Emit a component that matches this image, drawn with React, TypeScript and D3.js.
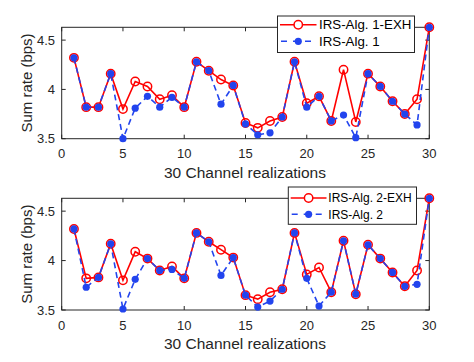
import * as d3 from 'd3'
import * as React from 'react'

//------------------------------data------------------------------
const realizations = d3.range(1, 31)
const xTicks = [0, 5, 10, 15, 20, 25, 30]
const yTicks = [3.5, 4, 4.5]

const exh1 = [4.32, 3.82, 3.82, 4.16, 3.8, 4.08, 4.03, 3.9, 3.94, 3.82, 4.28, 4.19, 4.1, 4.04, 3.66, 3.61, 3.68, 3.72, 4.28, 3.86, 3.93, 3.68, 4.2, 3.67, 4.16, 4.03, 3.88, 3.75, 3.9, 4.63]
const alg1 = [4.32, 3.82, 3.82, 4.16, 3.5, 3.81, 3.93, 3.82, 3.92, 3.82, 4.28, 4.19, 3.85, 4.04, 3.65, 3.54, 3.56, 3.72, 4.28, 3.82, 3.93, 3.68, 3.74, 3.51, 4.16, 4.03, 3.88, 3.75, 3.64, 4.63]
const exh2 = [4.32, 3.82, 3.83, 4.17, 3.8, 4.09, 4.02, 3.9, 3.94, 3.82, 4.28, 4.19, 4.11, 4.03, 3.65, 3.61, 3.68, 3.71, 4.28, 3.86, 3.93, 3.68, 4.2, 3.66, 4.16, 4.02, 3.88, 3.74, 3.9, 4.63]
const alg2 = [4.32, 3.73, 3.83, 4.17, 3.51, 3.81, 4.02, 3.9, 3.91, 3.82, 4.28, 4.19, 3.85, 4.03, 3.65, 3.53, 3.59, 3.71, 4.28, 3.82, 3.54, 3.68, 4.2, 3.66, 4.16, 4.02, 3.88, 3.74, 3.76, 4.63]

const WIDTH = 474
const HEIGHT = 362
const LEFT = 61.7
const RIGHT = 429.3
const AXIS = '#262626'
const RED = '#ff0000'
const BLUE = '#2244ee'
const FONT = '"Liberation Sans", Arial, sans-serif'

interface PanelProps {
  top: number
  bottom: number
  exh: number[]
  alg: number[]
  names: [string, string]
  legend: { x0: number; x1: number; y0: number; y1: number; s0: number; s1: number; tx: number; r1: number; r2: number; fs: number }
}

//------------------------------Panel------------------------------
const Panel = ({ top, bottom, exh, alg, names, legend }: PanelProps) => {
  const x = d3.scaleLinear().domain([0, 30]).range([LEFT, RIGHT])
  const yMax = d3.max([...exh, ...alg]) as number
  const y = d3.scaleLinear().domain([3.5, yMax]).range([bottom, top])
  const line = d3
    .line<number>()
    .x((_, i) => x(realizations[i]))
    .y(d => y(d))
  const tick = 4
  const sm = (legend.s0 + legend.s1) / 2
  return (
    <g>
      <rect x={LEFT} y={top} width={RIGHT - LEFT} height={bottom - top} fill="white" stroke={AXIS} strokeWidth={1} />
      {xTicks.map(t => (
        <g key={'x' + t}>
          <line x1={x(t)} x2={x(t)} y1={bottom} y2={bottom - tick} stroke={AXIS} />
          <line x1={x(t)} x2={x(t)} y1={top} y2={top + tick} stroke={AXIS} />
          <text x={x(t)} y={bottom + 19.5} textAnchor="middle" fontSize={13} fill={AXIS}>
            {t}
          </text>
        </g>
      ))}
      {yTicks.map(t => (
        <g key={'y' + t}>
          <line x1={LEFT} x2={LEFT + tick} y1={y(t)} y2={y(t)} stroke={AXIS} />
          <line x1={RIGHT} x2={RIGHT - tick} y1={y(t)} y2={y(t)} stroke={AXIS} />
          <text x={55} y={y(t) + 4.5} textAnchor="end" fontSize={13} fill={AXIS}>
            {d3.format('~g')(t)}
          </text>
        </g>
      ))}
      <text x={(LEFT + RIGHT) / 2 - 0.5} y={bottom + 39} textAnchor="middle" fontSize={15.5} fill={AXIS}>
        30 Channel realizations
      </text>
      <text
        transform={`translate(32,${(top + bottom) / 2}) rotate(-90)`}
        textAnchor="middle"
        fontSize={15}
        fill={AXIS}
      >
        Sum rate (bps)
      </text>

      <path d={line(exh) || ''} fill="none" stroke={RED} strokeWidth={1.6} />
      {exh.map((d, i) => (
        <circle key={'r' + i} cx={x(realizations[i])} cy={y(d)} r={4.2} fill="none" stroke={RED} strokeWidth={1.5} />
      ))}
      <path d={line(alg) || ''} fill="none" stroke={BLUE} strokeWidth={1.6} strokeDasharray="6,4" />
      {alg.map((d, i) => (
        <circle key={'b' + i} cx={x(realizations[i])} cy={y(d)} r={3.6} fill={BLUE} />
      ))}

      <rect
        x={legend.x0}
        y={legend.y0}
        width={legend.x1 - legend.x0}
        height={legend.y1 - legend.y0}
        fill="white"
        stroke={AXIS}
        strokeWidth={1}
      />
      <line x1={legend.s0} x2={legend.s1} y1={legend.r1} y2={legend.r1} stroke={RED} strokeWidth={1.6} />
      <circle cx={sm} cy={legend.r1} r={4.2} fill="white" stroke={RED} strokeWidth={1.5} />
      <line x1={legend.s0} x2={legend.s1} y1={legend.r2} y2={legend.r2} stroke={BLUE} strokeWidth={1.6} strokeDasharray="6,6" strokeDashoffset={-1} />
      <circle cx={sm} cy={legend.r2} r={3.6} fill={BLUE} />
      <text x={legend.tx} y={legend.r1 + legend.fs * 0.36} fontSize={legend.fs} fill="black">
        {names[0]}
      </text>
      <text x={legend.tx} y={legend.r2 + legend.fs * 0.36} fontSize={legend.fs} fill="black">
        {names[1]}
      </text>
    </g>
  )
}

//------------------------------App------------------------------
export default function App() {
  return (
    <svg
      width={WIDTH}
      height={HEIGHT}
      style={{ position: 'absolute', left: 0, top: 0, background: 'white' }}
      fontFamily={FONT}
    >
      <rect width={WIDTH} height={HEIGHT} fill="white" />
      <Panel
        top={27.3}
        bottom={138.7}
        exh={exh1}
        alg={alg1}
        names={['IRS-Alg. 1-EXH', 'IRS-Alg. 1']}
        legend={{ x0: 277.5, x1: 414.5, y0: 16, y1: 52.5, s0: 280, s1: 316.5, tx: 319, r1: 24.7, r2: 41.3, fs: 13.3 }}
      />
      <Panel
        top={198.3}
        bottom={310}
        exh={exh2}
        alg={alg2}
        names={['IRS-Alg. 2-EXH', 'IRS-Alg. 2']}
        legend={{ x0: 288.3, x1: 416.5, y0: 187, y1: 224.3, s0: 290.7, s1: 326.5, tx: 328.3, r1: 198, r2: 214.3, fs: 12 }}
      />
    </svg>
  )
}
